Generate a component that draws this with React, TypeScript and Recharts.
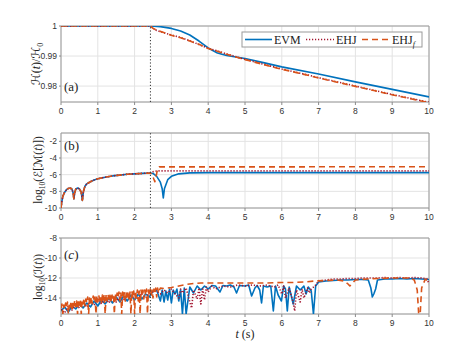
import React from "react";
import { LineChart, Line, XAxis, YAxis, CartesianGrid, ReferenceLine, ReferenceArea } from "recharts";

// ---------- Panel (a): H(t)/H0 ----------
const aTimeEVM = [0, 2.43, 2.7, 3.0, 3.25, 3.5, 3.75, 4.0, 4.25, 4.5, 4.75, 5, 5.5, 6, 7, 8, 9, 10];
const aEVM = [1, 1, 0.9998, 0.9992, 0.9983, 0.997, 0.995, 0.9927, 0.991, 0.9902, 0.9897, 0.9892, 0.9878, 0.9864, 0.984, 0.9814, 0.9789, 0.9764];
const aTimeEHJ = [0, 2.43, 2.5, 2.6, 2.75, 3.0, 3.25, 3.5, 3.75, 4.0, 4.25, 4.5, 5, 5.5, 6, 6.5, 7, 7.5, 8, 8.5, 9, 9.5, 10];
const aEHJ = [1, 1, 0.9993, 0.9985, 0.9979, 0.997, 0.9962, 0.9951, 0.9938, 0.9926, 0.9917, 0.9907, 0.9889, 0.9873, 0.9857, 0.9843, 0.9828, 0.9814, 0.98, 0.9786, 0.9772, 0.9759, 0.9746];
const aEHJf = [1, 1, 0.9992, 0.9986, 0.998, 0.9969, 0.9961, 0.995, 0.9939, 0.9925, 0.9916, 0.9906, 0.9888, 0.9872, 0.9856, 0.9842, 0.9827, 0.9813, 0.9799, 0.9785, 0.9771, 0.9758, 0.9745];

// ---------- Panel (b): log10(E[M(t)]) ----------
const bTimeCommon = [0, 0.02, 0.05, 0.1, 0.15, 0.2, 0.25, 0.3, 0.33, 0.35, 0.37, 0.4, 0.45, 0.5, 0.55, 0.58, 0.61, 0.65, 0.7, 0.8, 0.9, 1.0, 1.2, 1.4, 1.6, 1.8, 2.0, 2.2, 2.43];
const bCommon = [-10, -9.3, -8.6, -8.1, -7.8, -7.65, -7.6, -7.75, -8.2, -8.9, -8.2, -7.75, -7.6, -7.7, -8.1, -9.1, -8.0, -7.4, -7.1, -6.85, -6.65, -6.5, -6.3, -6.15, -6.05, -5.95, -5.9, -5.85, -5.8];
const bTimeEVMTail = [2.5, 2.6, 2.7, 2.75, 2.78, 2.81, 2.9, 3.0, 3.2, 3.5, 4, 10];
const bEVMTail = [-5.85, -6.2, -6.9, -7.7, -8.8, -7.7, -6.6, -6.2, -5.9, -5.78, -5.75, -5.75];
const bTimeEHJTail = [2.5, 2.6, 10];
const bEHJTail = [-5.65, -5.55, -5.55];
const bTimeEHJfTail = [2.48, 2.52, 2.55, 2.58, 2.62, 2.67, 10];
const bEHJfTail = [-6.0, -6.5, -6.85, -6.3, -5.4, -5.07, -5.05];

// ---------- Panel (c): log10(I(t)) ----------
const cTimeEVM = [0, 0.1, 0.2, 0.3, 0.4, 0.5, 0.6, 0.7, 0.8, 0.9, 1.0, 1.1, 1.2, 1.3, 1.4, 1.5, 1.6, 1.7, 1.8, 1.9, 2.0, 2.1, 2.2, 2.3, 2.4, 2.5, 2.6, 2.7, 2.75, 2.8, 2.85, 2.9, 2.95, 3.0, 3.05, 3.1, 3.15, 3.2, 3.25, 3.3, 3.35, 3.4, 3.5, 3.6, 3.7, 3.8, 3.9, 4.0, 4.1, 4.2, 4.32, 4.4, 4.5, 4.6, 4.7, 4.77, 4.85, 5.0, 5.1, 5.18, 5.27, 5.33, 5.4, 5.45, 5.5, 5.6, 5.7, 5.77, 5.83, 5.9, 5.99, 6.05, 6.1, 6.15, 6.2, 6.31, 6.4, 6.5, 6.6, 6.66, 6.72, 6.8, 6.86, 6.92, 7.0, 7.2, 7.4, 7.6, 7.8, 8.0, 8.2, 8.35, 8.42, 8.46, 8.5, 8.55, 8.6, 8.8, 9.0, 9.2, 9.4, 9.6, 9.8, 10];
const cEVM = [-15.3, -14.9, -15.4, -14.8, -15.1, -14.6, -15.0, -14.5, -14.9, -14.3, -14.8, -14.2, -14.6, -14.0, -14.5, -13.9, -14.4, -13.8, -14.3, -13.7, -14.2, -13.6, -14.1, -13.6, -13.9, -13.3, -13.2, -14.3, -13.2, -14.4, -13.3, -14.2, -13.1, -14.5, -13.2, -13.6, -13.1, -14.3, -13.2, -15.6, -13.0, -15.6, -12.9, -13.5, -12.8, -13.2, -12.8, -13.1, -12.75, -12.8, -13.4, -12.75, -12.8, -12.7, -12.9, -13.5, -12.75, -12.8, -12.7, -13.8, -13.0, -12.75, -13.2, -14.5, -12.8, -12.9, -12.8, -15.3, -12.8, -13.7, -14.3, -12.8, -13.1, -15.3, -12.9, -14.6, -12.8, -13.2, -12.8, -13.6, -12.9, -13.3, -15.6, -12.8, -12.4, -12.3, -12.25, -12.2, -12.2, -12.15, -12.15, -12.2, -13.0, -13.9, -13.6, -13.1, -12.2, -12.1, -12.1, -12.05, -12.1, -12.05, -12.1, -12.15];
const cTimeEHJ = [0, 0.1, 0.2, 0.3, 0.4, 0.5, 0.6, 0.7, 0.8, 0.9, 1.0, 1.1, 1.2, 1.3, 1.4, 1.5, 1.6, 1.7, 1.8, 1.9, 2.0, 2.1, 2.2, 2.3, 2.4, 2.5, 2.6, 2.7, 2.8, 2.9, 3.0, 3.1, 3.2, 3.25, 3.3, 3.4, 3.5, 3.55, 3.6, 3.7, 3.75, 3.8, 3.85, 3.9, 3.95, 4.0, 4.1, 4.2, 4.4, 4.6, 4.8, 5.0, 5.2, 5.4, 5.6, 5.8, 5.9, 6.0, 6.05, 6.1, 6.2, 6.3, 6.35, 6.4, 6.5, 6.55, 6.6, 6.7, 6.75, 6.8, 6.9, 7.0, 7.2, 7.4, 7.6, 7.8, 8.0, 8.2, 8.4, 8.6, 8.8, 9.0, 9.2, 9.4, 9.6, 9.8, 9.95, 10];
const cEHJ = [-15.1, -15.5, -14.8, -15.2, -14.6, -15.0, -14.4, -14.9, -14.3, -14.7, -14.1, -14.6, -14.0, -14.5, -13.9, -14.4, -13.8, -14.3, -13.7, -14.2, -13.6, -14.1, -13.5, -14.0, -13.5, -13.4, -13.3, -13.6, -13.2, -13.5, -13.1, -13.6, -14.0, -13.1, -13.5, -13.0, -14.4, -15.0, -13.2, -14.1, -13.0, -14.6, -13.1, -14.2, -12.9, -13.4, -12.8, -13.1, -12.8, -12.9, -12.7, -12.8, -12.7, -12.8, -12.7, -12.9, -12.7, -13.6, -12.8, -14.0, -13.0, -14.3, -15.3, -13.2, -14.4, -13.1, -14.0, -13.0, -13.5, -13.1, -12.8, -12.3, -12.2, -12.1, -12.1, -12.05, -12.05, -12.0, -12.0, -12.0, -11.95, -12.0, -11.95, -12.0, -11.95, -12.0, -12.1, -12.6];
const cTimeEHJf = [0, 0.025, 0.05, 0.075, 0.1, 0.125, 0.15, 0.175, 0.2, 0.225, 0.25, 0.275, 0.3, 0.325, 0.35, 0.375, 0.4, 0.425, 0.45, 0.475, 0.5, 0.525, 0.55, 0.575, 0.6, 0.625, 0.65, 0.675, 0.7, 0.725, 0.75, 0.775, 0.8, 0.825, 0.85, 0.875, 0.9, 0.925, 0.95, 0.975, 1.0, 1.025, 1.05, 1.075, 1.1, 1.125, 1.15, 1.175, 1.2, 1.225, 1.25, 1.275, 1.3, 1.325, 1.35, 1.375, 1.4, 1.425, 1.45, 1.475, 1.5, 1.525, 1.55, 1.575, 1.6, 1.625, 1.65, 1.675, 1.7, 1.725, 1.75, 1.775, 1.8, 1.825, 1.85, 1.875, 1.9, 1.925, 1.95, 1.975, 2.0, 2.025, 2.05, 2.075, 2.1, 2.125, 2.15, 2.175, 2.2, 2.225, 2.25, 2.275, 2.3, 2.325, 2.35, 2.375, 2.4, 2.425, 2.45, 2.475, 2.5, 2.525, 2.55, 2.575, 2.6, 2.625, 2.65, 2.7, 2.8, 3.0, 3.2, 3.4, 3.6, 3.8, 4.0, 4.3, 4.6, 5.0, 5.3, 5.6, 6.0, 6.3, 6.6, 6.9, 7.2, 7.5, 7.7, 7.8, 7.85, 7.9, 8.0, 8.3, 8.6, 9.0, 9.3, 9.5, 9.6, 9.68, 9.72, 9.76, 9.8, 9.9, 10];
const cEHJf = [-15.0, -14.6, -15.6, -14.7, -15.1, -14.5, -15.0, -14.4, -15.6, -14.5, -14.9, -14.3, -15.3, -14.4, -14.8, -14.2, -14.9, -14.3, -15.6, -14.2, -14.7, -14.1, -15.6, -14.2, -14.6, -14.0, -14.8, -14.1, -14.5, -13.9, -15.6, -14.0, -14.5, -13.9, -14.6, -13.8, -14.3, -13.9, -15.6, -13.8, -14.4, -13.7, -14.2, -13.8, -14.6, -13.7, -14.2, -13.6, -15.6, -13.7, -14.3, -13.6, -14.1, -13.6, -14.5, -13.5, -14.0, -13.6, -15.6, -13.5, -14.2, -13.5, -14.0, -13.4, -14.3, -13.5, -15.6, -13.4, -14.0, -13.4, -14.4, -13.4, -13.9, -13.3, -14.2, -13.4, -15.6, -13.3, -13.9, -13.3, -15.6, -13.3, -14.0, -13.2, -14.3, -13.3, -15.6, -13.2, -13.8, -13.2, -14.1, -13.2, -13.7, -13.1, -15.6, -13.2, -13.8, -13.1, -13.7, -13.2, -14.0, -13.1, -13.6, -13.0, -13.9, -13.0, -13.5, -13.0, -13.05, -12.95, -12.8, -12.65, -12.55, -12.5, -12.5, -12.5, -12.5, -12.5, -12.5, -12.5, -12.45, -12.45, -12.4, -12.3, -12.25, -12.2, -12.3, -12.6, -12.8, -12.6, -12.2, -12.1, -12.05, -12.0, -12.0, -12.0, -12.2, -13.2, -15.6, -15.6, -13.0, -12.1, -12.4];

const xTicks = [0, 1, 2, 3, 4, 5, 6, 7, 8, 9, 10];
const aYTicks = [0.98, 0.99, 1];
const bYTicks = [-10, -8, -6, -4, -2];
const cYTicks = [-14, -12, -10, -8];
const switchTime = 2.43;

const BLUE = "#0072BD";
const RED = "#A2142F";
const ORANGE = "#D95319";

const zip = (ts: number[], vs: number[]) => ts.map((t, i) => ({ t, v: vs[i] }));

const seriesStyle: Record<string, any> = {
  EVM: { stroke: BLUE, strokeWidth: 1.6 },
  EHJ: { stroke: RED, strokeWidth: 1.6, strokeDasharray: "1.2 1.8" },
  EHJf: { stroke: ORANGE, strokeWidth: 1.6, strokeDasharray: "6 4" },
};

type S = { name: string; data: { t: number; v: number }[] };

const tickStyle = { fontSize: 8.5, fill: "#333", fontFamily: "Liberation Sans, Arial, sans-serif" };
const tickLineStyle = { stroke: "#8a8a8a", strokeWidth: 1 };

function Panel(props: {
  top: number; height: number; yDomain: [number, number]; yTicks: number[];
  yFmt?: (v: number) => string; series: S[];
}) {
  const { top, height, yDomain, yTicks, yFmt, series } = props;
  return (
    <div style={{ position: "absolute", left: 0, top }}>
      <LineChart width={474} height={height} margin={{ top: 20, right: 45, left: 0, bottom: 0 }}>
        <CartesianGrid stroke="#e3e3e3" strokeWidth={1} />
        <XAxis
          type="number" dataKey="t" domain={[0, 10]} ticks={xTicks} allowDataOverflow
          height={20} tickLine={tickLineStyle} axisLine={false} tickSize={3} tickMargin={3} tick={tickStyle}
          interval={0}
        />
        <YAxis
          type="number" dataKey="v" domain={yDomain} ticks={yTicks} allowDataOverflow
          width={61} tickLine={tickLineStyle} axisLine={false} tickSize={2} tickMargin={2} tick={tickStyle}
          tickFormatter={yFmt} interval={0}
        />
        {series.map((s) => (
          <Line
            key={s.name} data={s.data} dataKey="v" type="linear" dot={false}
            isAnimationActive={false} {...seriesStyle[s.name]} strokeLinejoin="round"
          />
        ))}
        <ReferenceLine x={switchTime} stroke="#333" strokeWidth={1} strokeDasharray="1.2 2" />
        <ReferenceArea x1={0} x2={10} y1={yDomain[0]} y2={yDomain[1]} fill="none" stroke="#9a9a9a" strokeWidth={1} ifOverflow="visible" />
      </LineChart>
    </div>
  );
}

const serif = "Liberation Serif, DejaVu Serif, serif";
const script = "DejaVu Serif, DejaVu Sans, serif";

export default function App() {
  const seriesA: S[] = [
    { name: "EVM", data: zip(aTimeEVM, aEVM) },
    { name: "EHJ", data: zip(aTimeEHJ, aEHJ) },
    { name: "EHJf", data: zip(aTimeEHJ, aEHJf) },
  ];
  const seriesB: S[] = [
    { name: "EVM", data: [...zip(bTimeCommon, bCommon), ...zip(bTimeEVMTail, bEVMTail)] },
    { name: "EHJ", data: [...zip(bTimeCommon, bCommon), ...zip(bTimeEHJTail, bEHJTail)] },
    { name: "EHJf", data: [...zip(bTimeCommon, bCommon), ...zip(bTimeEHJfTail, bEHJfTail)] },
  ];
  const seriesC: S[] = [
    { name: "EVM", data: zip(cTimeEVM, cEVM) },
    { name: "EHJ", data: zip(cTimeEHJ, cEHJ) },
    { name: "EHJf", data: zip(cTimeEHJf, cEHJf) },
  ];
  return (
    <div style={{ position: "absolute", left: 0, top: 0, width: 474, height: 354, background: "#fff" }}>
      <Panel top={6} height={116} yDomain={[0.9747, 1]} yTicks={aYTicks} yFmt={(v) => String(v)} series={seriesA} />
      <Panel top={113} height={115} yDomain={[-10, -1]} yTicks={bYTicks} series={seriesB} />
      <Panel top={218} height={116} yDomain={[-15.6, -8]} yTicks={cYTicks} series={seriesC} />
      <svg width={474} height={354} style={{ position: "absolute", left: 0, top: 0, pointerEvents: "none" }}>
        {/* y axis labels */}
        <text transform="translate(40,64) rotate(-90)" textAnchor="middle" fontFamily={serif} fontSize={12} fill="#222">
          <tspan fontFamily={script}>ℋ</tspan>(<tspan fontStyle="italic">t</tspan>)/<tspan fontFamily={script}>ℋ</tspan><tspan fontSize={8} dy={3}>0</tspan>
        </text>
        <text transform="translate(42,170) rotate(-90)" textAnchor="middle" fontFamily={serif} fontSize={11.5} fill="#222">
          log<tspan fontSize={7.5} dy={3}>10</tspan><tspan dy={-3}>(</tspan><tspan fontFamily={script}>ℰ</tspan>[<tspan fontFamily={script}>ℳ</tspan>(<tspan fontStyle="italic">t</tspan>)])
        </text>
        <text transform="translate(42,277) rotate(-90)" textAnchor="middle" fontFamily={serif} fontSize={11.5} fill="#222">
          log<tspan fontSize={7.5} dy={3}>10</tspan><tspan dy={-3}>(</tspan><tspan fontFamily={script}>ℐ</tspan>(<tspan fontStyle="italic">t</tspan>))
        </text>
        {/* panel letters */}
        <text x={64} y={91} fontFamily={serif} fontSize={13} fill="#222">(a)</text>
        <text x={64} y={150} fontFamily={serif} fontSize={13} fill="#222">(b)</text>
        <text x={64} y={259} fontFamily={serif} fontSize={13} fill="#222">(<tspan fontStyle="italic">c</tspan>)</text>
        {/* x label */}
        <text x={245} y={338} textAnchor="middle" fontFamily={serif} fontSize={12} fill="#222">
          <tspan fontStyle="italic">t</tspan> (s)
        </text>
        {/* legend */}
        <rect x={242} y={32} width={180} height={15} fill="#fff" stroke="#9a9a9a" strokeWidth={1} />
        <line x1={245} x2={272} y1={39.5} y2={39.5} stroke={BLUE} strokeWidth={1.6} />
        <text x={274} y={44} fontFamily={serif} fontSize={12} fill="#222">EVM</text>
        <line x1={306} x2={334} y1={39.5} y2={39.5} stroke={RED} strokeWidth={1.6} strokeDasharray="1.2 1.8" />
        <text x={336} y={44} fontFamily={serif} fontSize={12} fill="#222">EHJ</text>
        <line x1={362} x2={390} y1={39.5} y2={39.5} stroke={ORANGE} strokeWidth={1.6} strokeDasharray="6 4" />
        <text x={392} y={44} fontFamily={serif} fontSize={12} fill="#222">
          EHJ<tspan fontSize={8} dy={3} fontStyle="italic">f</tspan>
        </text>
      </svg>
    </div>
  );
}
